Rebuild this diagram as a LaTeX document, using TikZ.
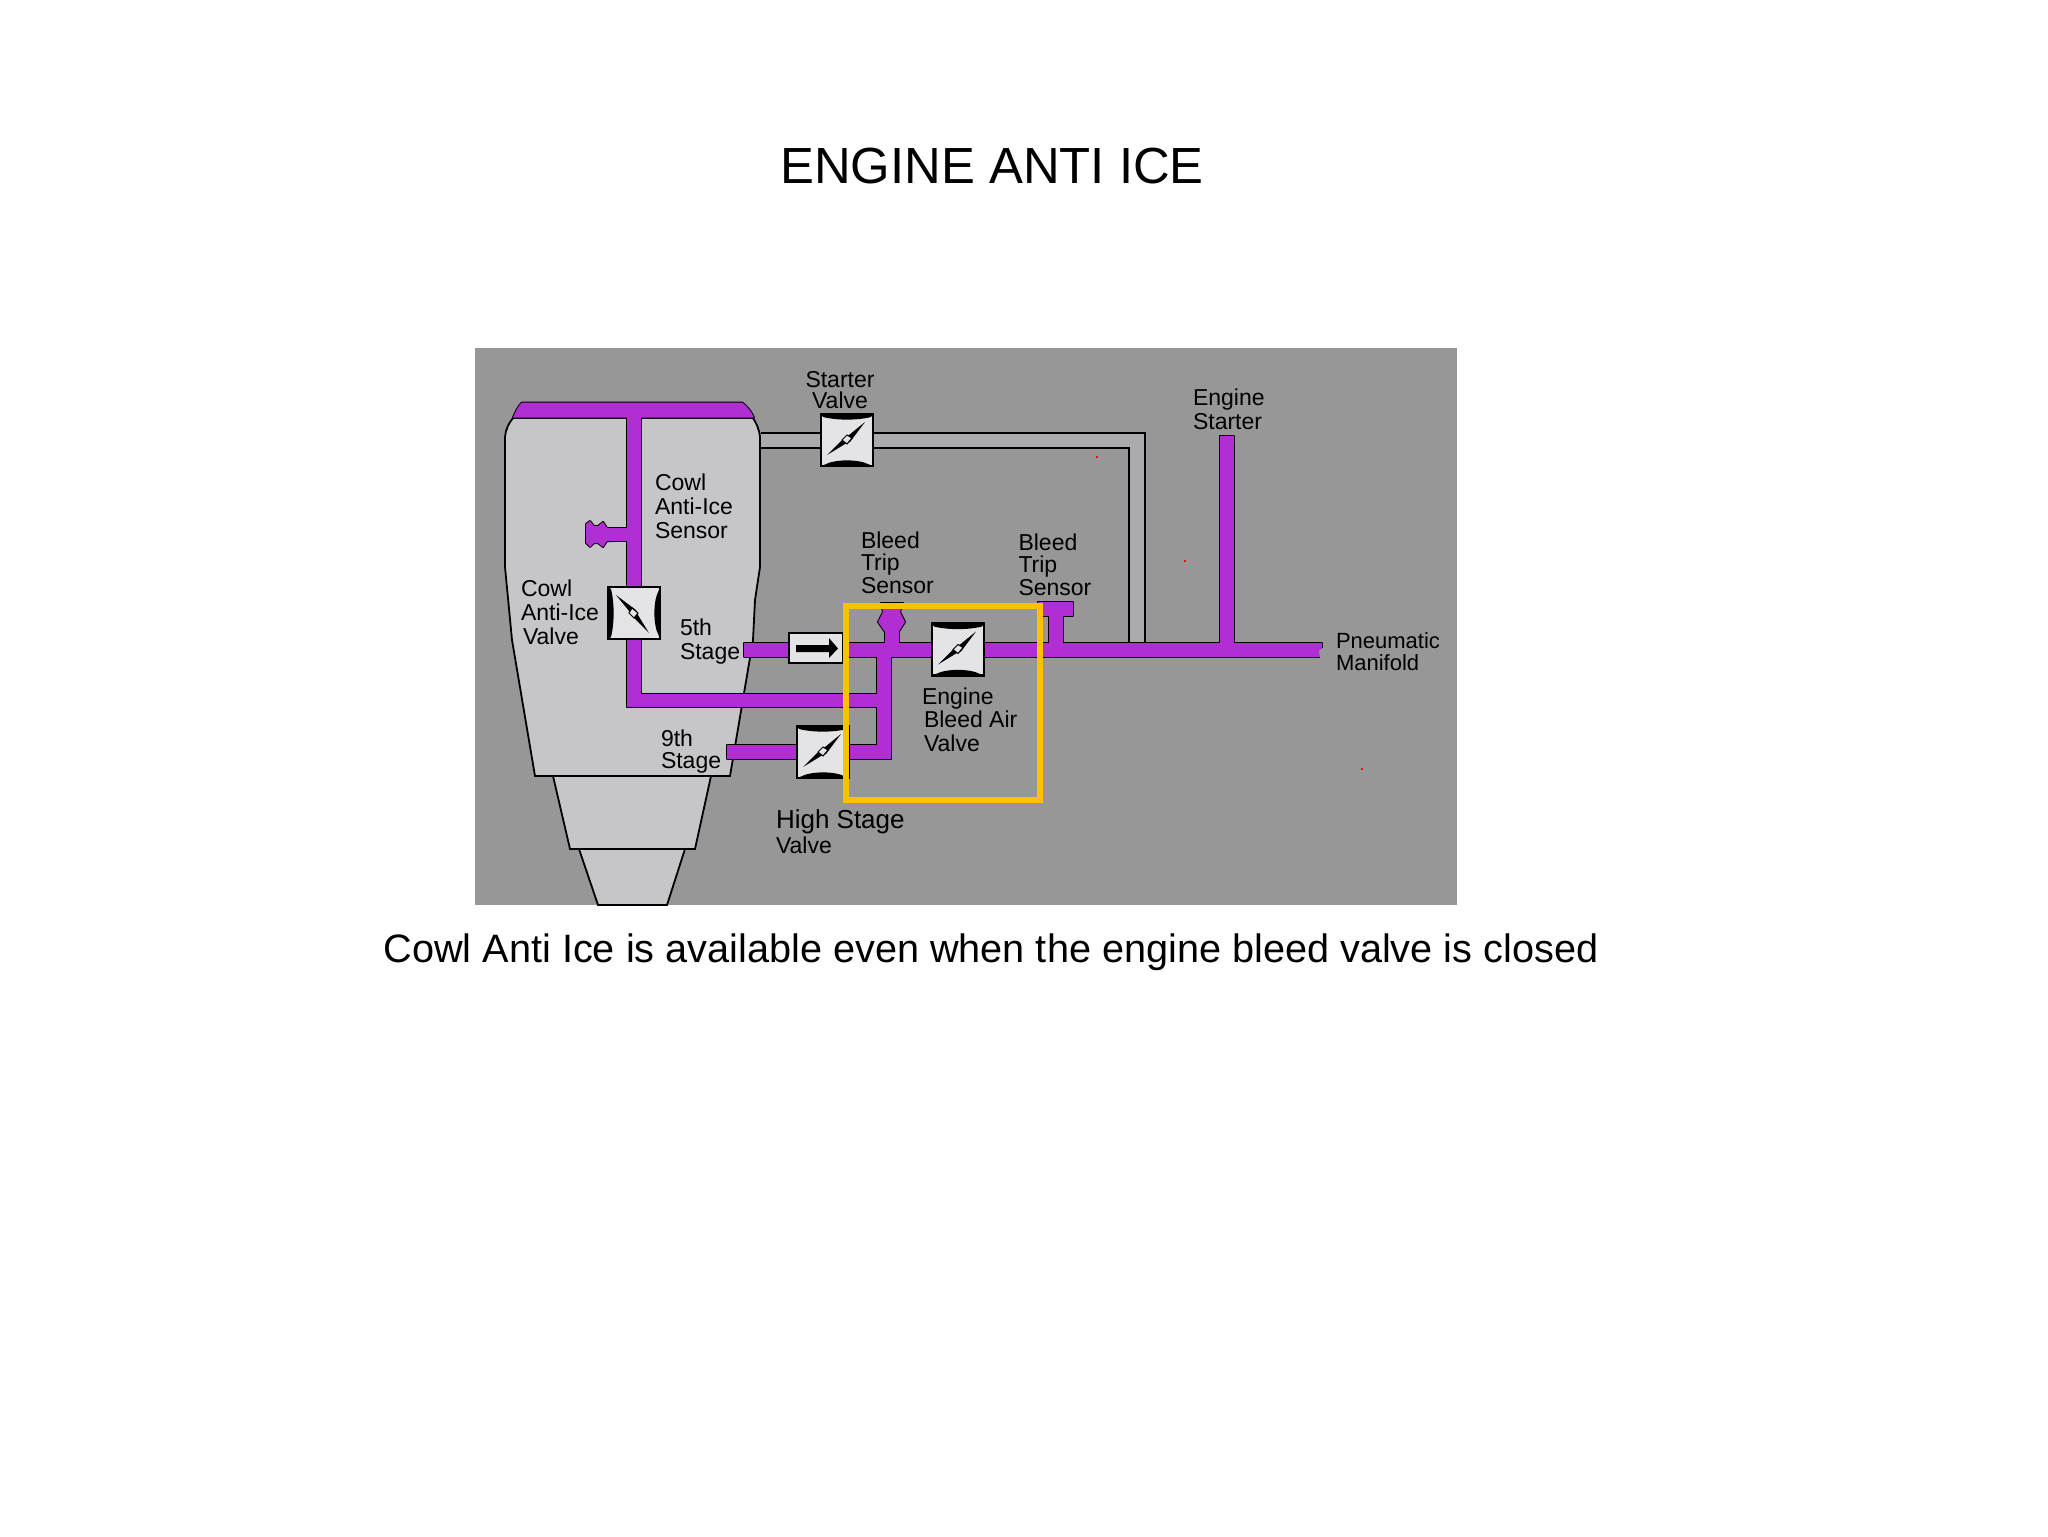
\documentclass[tikz,border=0pt]{standalone}
\usepackage{fontspec}
\setmainfont{Liberation Sans}
\definecolor{panel}{HTML}{979797}
\definecolor{cowl}{HTML}{C6C6C8}
\definecolor{pipe}{HTML}{B02ED2}
\definecolor{bypass}{HTML}{ABABAD}
\definecolor{valvebg}{HTML}{E4E4E6}
\definecolor{hilite}{HTML}{FFC000}
\tikzset{
  cowlpart/.style={fill=cowl,draw=black,line width=0.9pt,line join=miter},
  lbl/.style={anchor=base west,inner sep=0pt,outer sep=0pt,align=left,font=\fontsize{11.5}{11.6}\selectfont},
  valvebox/.style={draw=black,fill=valvebg,line width=1.1pt,minimum size=26pt,inner sep=0pt},
  speck/.style={fill=red,inner sep=0pt,minimum size=1pt,rectangle},
}
\newcommand{\valvemarks}[3]{% cx cy rot
  \begin{scope}[shift={(#1,#2)},rotate=#3]
    \fill[black] (-26,-26) -- (26,-26) -- (24,-23) .. controls (10,-19.5) and (-10,-19.5) .. (-24,-23) -- cycle;
    \fill[black] (-26,26) -- (26,26) -- (22,24.5) .. controls (12,19) and (-12,19) .. (-22,24.5) -- cycle;
    \fill[black] (-20,15) -- (-3,-2) -- (2,-5) -- (18,-18) -- (3,2) -- (-2,4) -- cycle;
    \draw[black,fill=valvebg,line width=0.5pt] (-5,0) -- (0,-5) -- (5,-2) -- (0,4) -- cycle;
  \end{scope}
}
\newcommand{\allpipes}{%
  \piece{(522,402.5) -- (742,402.5) .. controls (747,406) and (751,411) .. (754,417.5) -- (513,417.5) .. controls (516,411) and (518,406) .. (522,402.5) -- cycle}%
  \piece{(627,416) rectangle (640.5,590)}%
  \piece{(612,528) rectangle (627,541)}%
  \piece{(612,528) -- (607,528) -- (603,522) -- (598,526) -- (594,526) -- (590,521) -- (586,524) -- (586,543) -- (590,547) -- (594,543) -- (598,543) -- (603,547) -- (607,541) -- (612,541) -- cycle}%
  \piece{(627,636) rectangle (640.5,707)}%
  \piece{(627,693.5) rectangle (880,707)}%
  \piece{(744,643) rectangle (1322,656.5)}%
  \piece{(877,643) rectangle (890.5,759)}%
  \piece{(727,745) rectangle (890.5,759)}%
  \piece{(885,630) rectangle (898.5,645)}%
  \piece{(885,632) -- (878,622) -- (883,612) -- (881,603) -- (903,603) -- (900,612) -- (905,622) -- (898.5,632) -- cycle}%
  \piece{(1049,612) rectangle (1062.5,645)}%
  \piece{(1038,602) rectangle (1073,616)}%
  \piece{(1220,436) rectangle (1233.5,645)}%
}
\begin{document}
\begin{tikzpicture}[x=0.5pt,y=-0.5pt]
\useasboundingbox (0,0) rectangle (2048,1536);
\fill[white] (0,0) rectangle (2048,1536);
\fill[panel] (475,348) rectangle (1457,905);
% engine body
\draw[cowlpart] (579,849) -- (598,905) -- (667,905) -- (685,849) -- cycle;
\draw[cowlpart] (553,776) -- (570,849) -- (695,849) -- (711,776) -- cycle;
\draw[cowlpart] (513,418) .. controls (509,423) and (506,428) .. (505,437) -- (505,567) -- (512,640) -- (535,776) -- (730,776) -- (753,640) -- (755,600) -- (760,567) -- (760,437) .. controls (759,428) and (756,423) .. (753,418) -- cycle;
% grey starter line
\fill[bypass] (761,433) -- (1145,433) -- (1145,644) -- (1129,644) -- (1129,448) -- (761,448) -- cycle;
\draw[black,line width=0.9pt] (761,433) -- (1145,433) -- (1145,644);
\draw[black,line width=0.9pt] (761,448) -- (1129,448) -- (1129,644);
% purple pipes: black outline first, then purple on top
\def\piece#1{\draw[black,fill=black,line width=1pt,line join=round] #1;}
\allpipes
\def\piece#1{\fill[pipe] #1;}
\allpipes
% pipe end notches
\fill[panel] (1319,651) -- (1324,647) -- (1325,658) -- (1320,658) -- cycle;
\fill[panel] (1222,432) -- (1224,435) -- (1229,435) -- (1231,432) -- cycle;
% valves
\node[valvebox] (starterv) at (847,440) {};
\valvemarks{847}{440}{0}
\node[valvebox] (cowlv) at (634,613) {};
\valvemarks{634}{613}{90}
\node[valvebox] (bleedv) at (958,649.5) {};
\valvemarks{958}{649.5}{0}
\node[valvebox] (highv) at (823,752) {};
\valvemarks{823}{752}{0}
% check valve
\node[draw=black,fill=valvebg,line width=1pt,minimum width=27pt,minimum height=15pt,inner sep=0pt] (checkv) at (816,648) {};
\fill[black] (796,645) -- (829,645) -- (829,638) -- (838,648.5) -- (829,658) -- (829,652) -- (796,652) -- cycle;
% specks
\node[speck] (s1) at (1097,457) {};
\node[speck] (s2) at (1185,561) {};
\node[speck] (s3) at (1362,769) {};
% highlight box
\node[draw=hilite,line width=3.2pt,minimum width=97pt,minimum height=97pt,inner sep=0pt,outer sep=0pt] (hl) at (943,703) {};
% labels
\node[lbl,align=center,anchor=base,font=\fontsize{11.5}{10.5}\selectfont] (l1) at (840,408) {Starter\\Valve};
\node[lbl,font=\fontsize{11.5}{12}\selectfont] (l2) at (655,538) {Cowl\\Anti-Ice\\Sensor};
\node[lbl,font=\fontsize{11.5}{11.8}\selectfont] (l3) at (521,644) {Cowl\\Anti-Ice\\\hspace{1pt}Valve};
\node[lbl] (l4) at (680,659) {5th\\Stage};
\node[lbl,font=\fontsize{11.5}{10.8}\selectfont] (l5) at (661,768) {9th\\Stage};
\node[lbl,font=\fontsize{13}{12.5}\selectfont] (l6) at (776,853) {High Stage\\{\fontsize{11.5}{12.5}\selectfont Valve}};
\node[lbl,font=\fontsize{11.5}{11.25}\selectfont] (l7) at (861,593) {Bleed\\Trip\\Sensor};
\node[lbl,font=\fontsize{11.5}{11.25}\selectfont] (l8) at (1018.5,595) {Bleed\\Trip\\Sensor};
\node[lbl,font=\fontsize{11.5}{11.7}\selectfont] (l9) at (922,751) {Engine\\\hspace{1pt}Bleed Air\\\hspace{1pt}Valve};
\node[lbl] (l10) at (1193,429) {Engine\\Starter};
\node[lbl,font=\fontsize{11}{11}\selectfont] (l11) at (1336,670) {Pneumatic\\Manifold};
\node[anchor=base,inner sep=0pt,font=\fontsize{25.4}{30}\selectfont] (title) at (992,183) {ENGINE ANTI ICE};
\node[anchor=base,inner sep=0pt,font=\fontsize{19.83}{24}\selectfont] (cap) at (991,962) {Cowl Anti Ice is available even when the engine bleed valve is closed};
\end{tikzpicture}
\end{document}
